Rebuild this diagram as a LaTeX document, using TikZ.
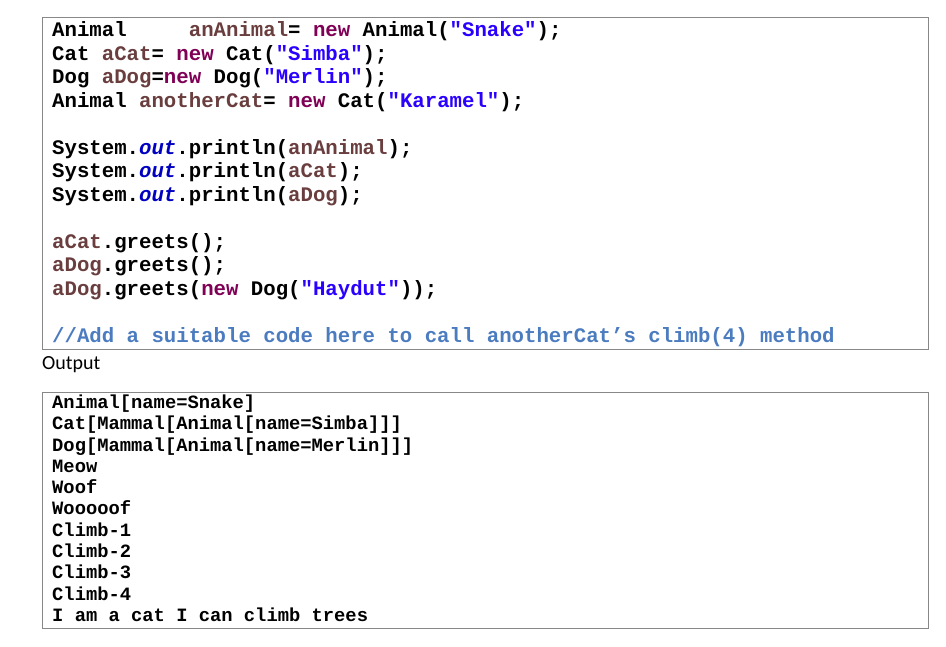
\documentclass[tikz,border=0pt]{standalone}
\usepackage{fontspec}
\setmainfont{Carlito}
\setmonofont{Liberation Mono}
\usepackage{xcolor}
\usetikzlibrary{positioning}

\definecolor{kwcol}{RGB}{127,0,85}
\definecolor{varcol}{RGB}{106,62,62}
\definecolor{strcol}{RGB}{42,0,255}
\definecolor{fldcol}{RGB}{0,0,192}
\definecolor{cmtcol}{RGB}{76,124,192}
\definecolor{boxcol}{RGB}{136,136,136}

\newcommand{\jkw}[1]{\textcolor{kwcol}{#1}}
\newcommand{\jvar}[1]{\textcolor{varcol}{#1}}
\newcommand{\jstr}[1]{\textcolor{strcol}{#1}}
\newcommand{\jfld}[1]{\textcolor{fldcol}{\itshape #1}}

\begin{document}
\begin{tikzpicture}[x=1pt, y=1pt,
  codebox/.style={draw=boxcol, line width=1.3pt, inner sep=0pt, anchor=north west},
  src/.style={anchor=base west, inner sep=0pt, font=\fontsize{20.7}{24}\selectfont\ttfamily\bfseries},
  res/.style={anchor=base west, inner sep=0pt, font=\fontsize{18.8}{22}\selectfont\ttfamily\bfseries}]

\useasboundingbox (0,0) rectangle (946,-647);

% code box

\node [codebox, minimum width=886pt, minimum height=332pt] at (42, -17) (code) {};

\node [src] at (52, -37) (l1) {Animal\ \ \ \ \ \jvar{anAnimal}= \jkw{new} Animal(\jstr{"Snake"});};
\node [src] at (52, -60.5) (l2) {Cat \jvar{aCat}= \jkw{new} Cat(\jstr{"Simba"});};
\node [src] at (52, -83.9) (l3) {Dog \jvar{aDog}=\jkw{new} Dog(\jstr{"Merlin"});};
\node [src] at (52, -107.4) (l4) {Animal \jvar{anotherCat}= \jkw{new} Cat(\jstr{"Karamel"});};

\node [src] at (52, -154.3) (l5) {System.\jfld{out}.println(\jvar{anAnimal});};
\node [src] at (52, -177.8) (l6) {System.\jfld{out}.println(\jvar{aCat});};
\node [src] at (52, -201.2) (l7) {System.\jfld{out}.println(\jvar{aDog});};

\node [src] at (52, -248.1) (l8) {\jvar{aCat}.greets();};
\node [src] at (52, -271.6) (l9) {\jvar{aDog}.greets();};
\node [src] at (52, -295.1) (l10) {\jvar{aDog}.greets(\jkw{new} Dog(\jstr{"Haydut"}));};

\node [src, text=cmtcol] at (52, -342) (l11) {//Add a suitable code here to call anotherCat’s climb(4) method};

% output

\node [anchor=base west, inner sep=0pt, font=\fontsize{20}{24}\selectfont] at (42, -370) (outlabel) {Output};

\node [codebox, minimum width=886pt, minimum height=236pt] at (42, -392) (result) {};

\node [res] at (52, -408.4) (r1) {Animal[name=Snake]};
\node [res] at (52, -429.7) (r2) {Cat[Mammal[Animal[name=Simba]]]};
\node [res] at (52, -451) (r3) {Dog[Mammal[Animal[name=Merlin]]]};
\node [res] at (52, -472.3) (r4) {Meow};
\node [res] at (52, -493.6) (r5) {Woof};
\node [res] at (52, -514.9) (r6) {Wooooof};
\node [res] at (52, -536.2) (r7) {Climb-1};
\node [res] at (52, -557.5) (r8) {Climb-2};
\node [res] at (52, -578.8) (r9) {Climb-3};
\node [res] at (52, -600.1) (r10) {Climb-4};
\node [res] at (52, -621.4) (r11) {I am a cat I can climb trees};

\end{tikzpicture}
\end{document}
